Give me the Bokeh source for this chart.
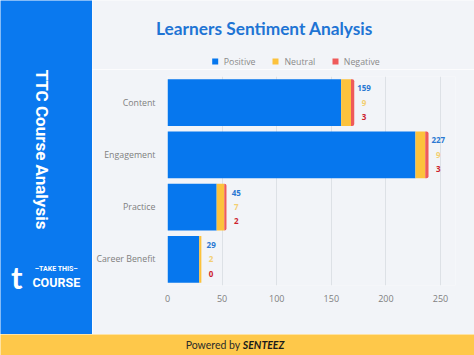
from math import pi
from bokeh.plotting import figure
from bokeh.layouts import column, row
from bokeh.models import Range1d, FactorRange, ColumnDataSource
from bokeh.core.properties import value
from bokeh.embed import file_html
from bokeh.resources import INLINE

# ---- data ----
categories = ["Content", "Engagement", "Practice", "Career Benefit"]
positive = [159, 227, 45, 29]
neutral = [9, 9, 7, 2]
negative = [3, 3, 2, 0]
series = ["Positive", "Neutral", "Negative"]
x_ticks = [0, 50, 100, 150, 200, 250]
chart_title = "Learners Sentiment Analysis"
side_title = "TTC Course Analysis"
footer_left = "Powered by"
footer_right = "SENTEEZ"

# ---- styles ----
BG = "#f2f4f8"
SIDE_BLUE = "#0a79ef"
FOOT_YELLOW = "#fec84a"
colors = ["#0677ee", "#fcc23c", "#ef5a5a"]
label_colors = ["#2a78d2", "#f3cf72", "#cc1f2e"]

neu_end = [p + n for p, n in zip(positive, neutral)]
total = [p + n + g for p, n, g in zip(positive, neutral, negative)]

src = ColumnDataSource(dict(
    cat=categories, pos=positive, neu_end=neu_end, total=total,
    pos_txt=[str(v) for v in positive],
    neu_txt=[str(v) for v in neutral],
    neg_txt=[str(v) for v in negative],
))

SIDE_W, MAIN_W, TOP_H, FOOT_H, HEAD_H = 92, 382, 334, 21, 69

# ---- chart ----
chart = figure(width=MAIN_W, height=TOP_H - HEAD_H,
               y_range=FactorRange(*categories[::-1]),
               x_range=Range1d(0, 263.7),
               output_backend="svg", toolbar_location=None,
               min_border_left=75, min_border_right=19,
               min_border_top=7, min_border_bottom=49,
               background_fill_color=BG, border_fill_color=BG,
               outline_line_color=None)

H = 0.89
chart.hbar(y="cat", left=0, right="pos", height=H, source=src,
           fill_color=colors[0], line_color=None)
chart.hbar(y="cat", left="pos", right="neu_end", height=H, source=src,
           fill_color=colors[1], line_color=None)
chart.hbar(y="cat", left="neu_end", right="total", height=H, source=src,
           fill_color=colors[2], line_color=None, border_radius=(0, 2, 2, 0))

for txt, col, dy in zip(["pos_txt", "neu_txt", "neg_txt"], label_colors, [-14.4, 0, 14.2]):
    chart.text(x="total", y="cat", text=txt, source=src, x_offset=9.8, y_offset=dy,
               text_align="center", text_baseline="middle",
               text_font=value("Open Sans"), text_font_style="bold",
               text_font_size="8px", text_color=col)

chart.xaxis.ticker = x_ticks
chart.xgrid.ticker = x_ticks
chart.xgrid.grid_line_color = "#dde1e6"
chart.ygrid.visible = False
for ax in (chart.xaxis[0], chart.yaxis[0]):
    ax.axis_line_color = None
    ax.major_tick_line_color = None
    ax.minor_tick_line_color = None
    ax.major_label_text_font = "Open Sans"
    ax.major_label_text_color = "#7f7f7f"
chart.xaxis.major_label_text_font_size = "9px"
chart.xaxis.major_label_standoff = 3
chart.yaxis.major_label_text_font_size = "8.8px"
chart.yaxis.major_label_standoff = 6

# ---- header (title + legend) ----
header = figure(width=MAIN_W, height=HEAD_H, x_range=Range1d(0, MAIN_W), y_range=Range1d(0, HEAD_H),
                x_axis_type=None, y_axis_type=None, min_border=0,
                output_backend="svg", toolbar_location=None,
                background_fill_color=BG, border_fill_color=BG, outline_line_color=None)
header.grid.visible = False
header.text(x=[172], y=[HEAD_H - 28.3], text=[chart_title], text_align="center", text_baseline="middle",
            text_font=value("Lato"), text_font_style="bold", text_font_size="17.3px",
            text_color="#1f74d4")
header.scatter(x=[122.7, 183, 243], y=[HEAD_H - 61] * 3, marker="square", size=6,
               fill_color=colors, line_color=None)
header.text(x=[131.3, 192, 251.3], y=[HEAD_H - 61] * 3, text=series, text_align="left",
            text_baseline="middle", text_font=value("Open Sans"), text_font_size="8.8px",
            text_color="#8a8a8a")

# ---- sidebar ----
side = figure(width=SIDE_W, height=TOP_H, x_range=Range1d(0, SIDE_W), y_range=Range1d(0, TOP_H),
              x_axis_type=None, y_axis_type=None, min_border=0,
              output_backend="svg", toolbar_location=None,
              background_fill_color=SIDE_BLUE, border_fill_color=SIDE_BLUE,
              outline_line_color=None)
side.grid.visible = False
side.text(x=[41.7], y=[TOP_H - 149], text=[side_title], angle=-pi / 2,
          text_align="center", text_baseline="middle",
          text_font=value("Roboto"), text_font_style="bold",
          text_font_size="17px", text_color="white")
side.text(x=[16.3], y=[TOP_H - 276.5], text=["t"], text_align="center", text_baseline="middle",
          text_font=value("Lato"), text_font_style="bold", text_font_size="31px",
          text_color="white")
side.text(x=[55.8], y=[TOP_H - 268.5], text=["–TAKE THIS–"], text_align="center",
          text_baseline="middle", text_font=value("Roboto"),
          text_font_style="bold", text_font_size="7px", text_color="white")
side.text(x=[55.8], y=[TOP_H - 281.5], text=["COURSE"], text_align="center",
          text_baseline="middle", text_font=value("Roboto"),
          text_font_style="bold", text_font_size="12.5px", text_color="white")

# ---- footer ----
footer = figure(width=SIDE_W + MAIN_W, height=FOOT_H, x_range=Range1d(0, SIDE_W + MAIN_W),
                y_range=Range1d(0, FOOT_H),
                x_axis_type=None, y_axis_type=None, min_border=0,
                output_backend="svg", toolbar_location=None,
                background_fill_color=FOOT_YELLOW, border_fill_color=FOOT_YELLOW,
                outline_line_color=None)
footer.grid.visible = False
footer.text(x=[239.7], y=[FOOT_H - 10.5], text=[footer_left], text_align="right", text_baseline="middle",
            text_font=value("Lato"), text_font_size="10.5px", text_color="#2b2b2b")
footer.text(x=[242.3], y=[FOOT_H - 10.5], text=[footer_right], text_align="left", text_baseline="middle",
            text_font=value("Lato"), text_font_style="bold italic", text_font_size="10.5px",
            text_color="#1a1a1a")

for fig in (chart, header, side, footer):
    fig.frame_align = False

layout = column(row(side, column(header, chart)), footer)

open("out.html", "w").write(file_html(layout, INLINE))
